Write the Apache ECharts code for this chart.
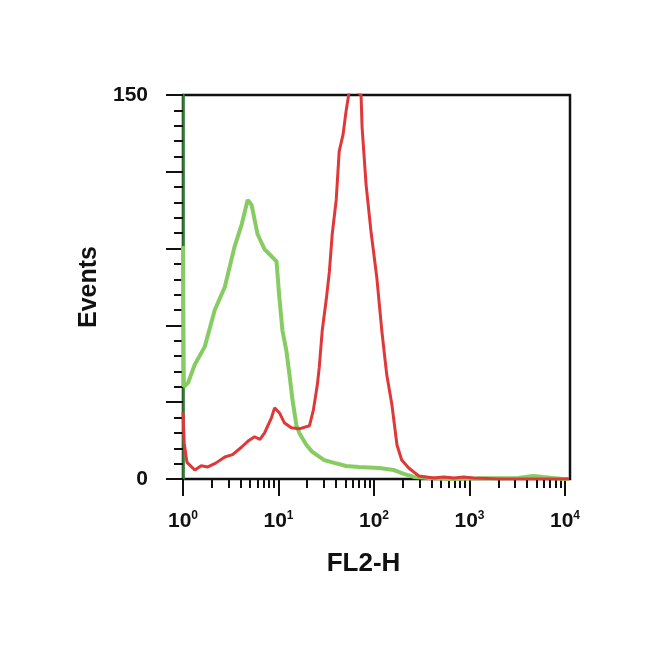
<!DOCTYPE html>
<html>
<head>
<meta charset="utf-8">
<script src="https://cdn.jsdelivr.net/npm/echarts@6/dist/echarts.min.js"></script>
<style>html,body{margin:0;padding:0;background:#fff}#c{width:650px;height:650px}</style>
</head>
<body>
<div id="c"></div>
<script>
// FL2-H channel values (x) and event counts (y)
const greenX = [1, 1.02, 1.13, 1.33, 1.69, 2.15, 2.74, 3.48, 4.12, 4.75, 5.23, 6.04, 7.15, 8.45, 9.53, 10.2, 11.0, 12.1, 13.0, 14.0, 15.4, 16.5, 19.6, 22.6, 30.1, 38.3, 51, 69.8, 113, 162, 205, 261, 374, 600, 1500, 3240, 4640, 5870, 7470, 9600, 11000];
const greenY = [91, 36, 37.6, 44.7, 51.7, 66, 75, 91, 99.5, 109, 107, 95.6, 89.7, 87, 85, 71, 58, 50, 41, 31, 21, 18, 13.3, 10.6, 7.4, 6.3, 5.1, 4.7, 4.3, 3.5, 2, 0.8, 0.4, 0, 0.3, 0.4, 1.2, 0.8, 0.4, 0, 0];

const redX = [1, 1.03, 1.1, 1.33, 1.55, 1.82, 2.2, 2.74, 3.3, 4.12, 4.8, 5.62, 6.4, 7.15, 8.45, 9.1, 10.2, 11.5, 13.6, 16.5, 21.1, 23.2, 25.5, 26.7, 28.7, 31.6, 34.1, 36.5, 40.2, 43.2, 47.5, 51, 54.8, 63.1, 73.2, 75, 82.6, 93, 107, 121, 136, 154, 174, 195, 231, 294, 421, 537, 685, 870, 1100, 1585, 2000, 11000];
const redY = [26, 14, 6.5, 3.5, 5.2, 4.7, 6.2, 8.6, 9.5, 12.5, 14.8, 16.5, 15.5, 18, 24, 27.8, 25.9, 22, 20, 19.6, 20.8, 27, 36.8, 43.5, 58, 70, 81, 95.6, 109, 128, 134.7, 143.7, 151, 152, 150, 137.5, 115, 96.7, 78.7, 57.6, 40.7, 29, 13.3, 7.4, 4.3, 1.2, 0.4, 0.8, 0.4, 0.8, 0.4, 0.2, 0, 0];

const decadeTicks = [1, 10, 100, 1000, 10000];
const minorTicks = [2,3,4,5,6,7,8,9,20,30,40,50,60,70,80,90,200,300,400,500,600,700,800,900,2000,3000,4000,5000,6000,7000,8000,9000];
const yMin = 0, yMax = 150, yStep = 30;
const yLabels = [0, 150];
const xMin = 1, xMax = 11280;

const lg = v => Math.log10(v);
const zip = (a, b) => a.map((v, i) => [v, b[i]]);
const font = 'Liberation Sans, Arial, sans-serif';

const chart = echarts.init(document.getElementById('c'));
const tickAxisBase = {
  type: 'value', gridIndex: 0, position: 'bottom',
  min: lg(xMin), max: lg(xMax),
  axisLine: {show: false}, splitLine: {show: false}
};
chart.setOption({
  animation: false,
  backgroundColor: '#fff',
  grid: {left: 183, right: 80, top: 95, bottom: 171, show: true, borderColor: '#111', borderWidth: 2.5, backgroundColor: 'transparent'},
  xAxis: [
    {type: 'log', logBase: 10, min: xMin, max: xMax, position: 'bottom',
     axisLine: {show: false}, axisTick: {show: false}, axisLabel: {show: false}, splitLine: {show: false}, minorTick: {show: false}},
    Object.assign({}, tickAxisBase, {
      axisTick: {show: true, customValues: minorTicks.map(lg), length: 9, lineStyle: {color: '#111', width: 2}},
      axisLabel: {show: false}
    }),
    Object.assign({}, tickAxisBase, {
      axisTick: {show: true, customValues: decadeTicks.map(lg), length: 17, lineStyle: {color: '#111', width: 2}},
      axisLabel: {show: true, customValues: decadeTicks.map(lg), margin: 31,
        formatter: v => '{b|10}{s|' + Math.round(v) + '}',
        rich: {
          b: {fontSize: 21, fontWeight: 'bold', fontFamily: font, color: '#111'},
          s: {fontSize: 12, fontWeight: 'bold', fontFamily: font, color: '#111', verticalAlign: 'top', padding: [0, 0, 11, 0]}
        }},
      name: 'FL2-H', nameLocation: 'middle', nameGap: 72,
      nameTextStyle: {fontSize: 26, fontWeight: 'bold', fontFamily: font, color: '#111', padding: [0, 26, 0, 0]}
    })
  ],
  yAxis: {
    type: 'value', min: yMin, max: yMax, interval: yStep,
    axisLine: {show: true, lineStyle: {color: '#2f7f2f', width: 2.5}},
    axisTick: {show: true, length: 17, lineStyle: {color: '#111', width: 2}},
    minorTick: {show: true, splitNumber: 5, length: 9, lineStyle: {color: '#111', width: 2}},
    splitLine: {show: false},
    axisLabel: {margin: 35, fontSize: 21, fontWeight: 'bold', fontFamily: font, color: '#111',
      formatter: v => yLabels.indexOf(v) >= 0 ? String(v) : ''},
    name: 'Events', nameLocation: 'middle', nameGap: 76, nameRotate: 90,
    nameTextStyle: {fontSize: 25, fontWeight: 'bold', fontFamily: font, color: '#111'}
  },
  series: [
    {type: 'line', xAxisIndex: 0, data: zip(greenX, greenY), showSymbol: false, symbol: 'none',
     lineStyle: {color: '#86cc62', width: 4}, clip: true, z: 3},
    {type: 'line', xAxisIndex: 0, data: zip(redX, redY), showSymbol: false, symbol: 'none',
     lineStyle: {color: '#e03838', width: 3}, clip: true, z: 4}
  ]
});
</script>
</body>
</html>
